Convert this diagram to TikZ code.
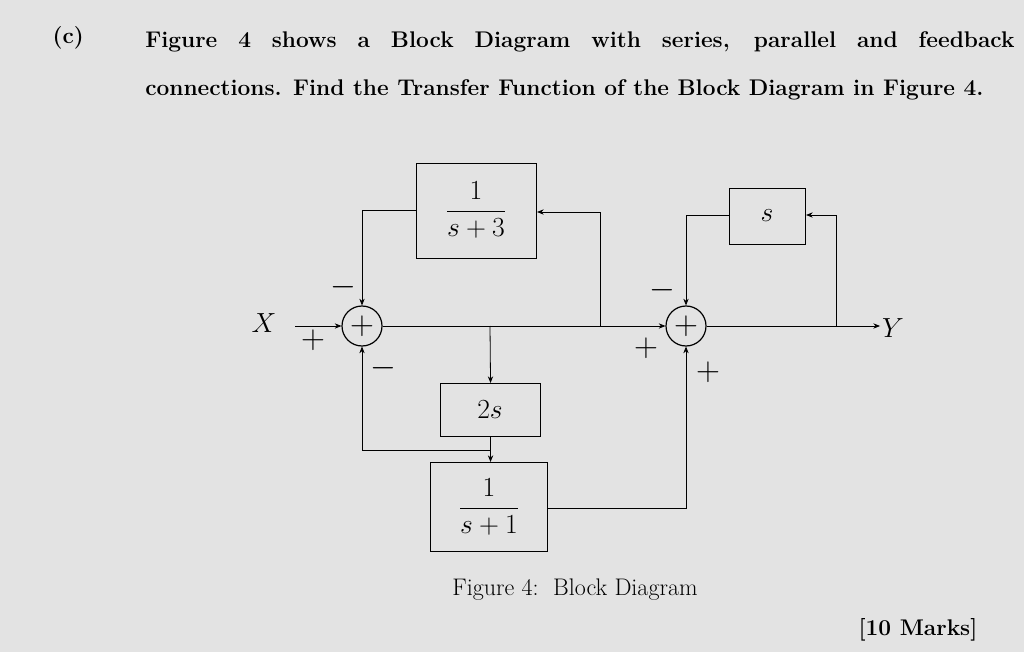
\documentclass[tikz,border=0pt]{standalone}
\usetikzlibrary{arrows.meta}
\begin{document}
\begin{tikzpicture}[x=0.75pt,y=-0.75pt,
 blk/.style={draw,line width=0.8pt,inner sep=0pt,anchor=north west},
 sumc/.style={draw,circle,line width=0.9pt,minimum size=30pt,inner sep=0pt,font=\fontsize{24}{26}\selectfont},
 ln/.style={line width=0.6pt},
 arr/.style={ln,-{Stealth[length=5pt,width=4pt]}},
 sg/.style={font=\fontsize{24}{26}\selectfont},
 tx/.style={font=\fontsize{17}{22}\selectfont\bfseries,anchor=west}]
\fill[gray!22] (0,0) rectangle (1024,652);
\useasboundingbox (0,0) rectangle (1024,652);
\node[tx] (c) at (48,38) {(c)};
\node[tx,inner sep=0pt] (p1) at (145,42) {\makebox[652pt][s]{Figure 4 shows a Block Diagram with series, parallel and feedback}};
\node[tx,inner sep=0pt] (p2) at (145,90) {connections. Find the Transfer Function of the Block Diagram in Figure 4.};
% blocks
\node[blk,minimum width=90pt,minimum height=71pt] (b1) at (416,163) {};
\node (f1) at (476,210) {\fontsize{20}{24}\selectfont$\displaystyle\frac{1}{s+3}$};
\node[blk,minimum width=57pt,minimum height=42pt] (bs) at (729,188) {};
\node at (767,216) {\fontsize{20}{24}\selectfont$s$};
\node[blk,minimum width=75pt,minimum height=40pt] (b2) at (440,383) {};
\node at (490,410) {\fontsize{20}{24}\selectfont$2s$};
\node[blk,minimum width=88pt,minimum height=67pt] (b3) at (430,462) {};
\node (f3) at (489,507) {\fontsize{20}{24}\selectfont$\displaystyle\frac{1}{s+1}$};
% sums
\node[sumc] (s1) at (362,326) {$+$};
\node[sumc] (s2) at (686,326) {$+$};
\coordinate (x0) at (295,326);
\coordinate (yend) at (880,326);
\coordinate (t1) at (600,326);
\coordinate (t2) at (490,326);
\coordinate (t3) at (490,450);
\coordinate (t4) at (836,326);
\node[font=\fontsize{22}{26}\selectfont] (X) at (264,323) {$X$};
\node[font=\fontsize{22}{26}\selectfont] (Y) at (893,328) {$Y$};
% connectors
\draw[arr] (x0) -- (s1.west);
\draw[arr] (s1.east) -- (s2.west);
\draw[arr] (t1) |- (b1.east |- 0,212);
\draw[arr] (b1.west |- 0,210) -| (s1.north);
\draw[arr] (t2) -- (b2.north);
\draw[arr] (b2.south) -- (b3.north -| b2.south);
\draw[arr] (t3) -| (s1.south);
\draw[arr] (b3.east |- 0,508) -| (s2.south);
\draw[arr] (s2.east) -- (yend);
\draw[arr] (t4) |- (bs.east |- 0,215);
\draw[arr] (bs.west |- 0,215) -| (s2.north);
% signs
\node[sg] at (343,287) {$-$};
\node[sg] at (313,340) {$+$};
\node[sg] at (383,368) {$-$};
\node[sg] at (662,290) {$-$};
\node[sg] at (646,348) {$+$};
\node[sg] at (708,372) {$+$};
\node[font=\fontsize{18}{20}\selectfont] (cap) at (575,590) {Figure 4:\ \ Block Diagram};
\node[font=\fontsize{17}{20}\selectfont\bfseries] (mk) at (918,630) {[10 Marks]};
\end{tikzpicture}
\end{document}
